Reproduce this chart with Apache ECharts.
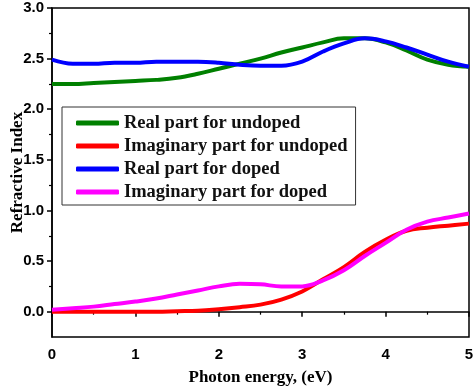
<!DOCTYPE html>
<html><head><meta charset="utf-8">
<script src="https://cdn.jsdelivr.net/npm/echarts@6/dist/echarts.min.js"></script>
<style>html,body{margin:0;padding:0;background:#fff}#c{width:474px;height:387px}</style>
</head><body><div id="c"></div>
<script>
const energy = [0,0.25,0.5,0.75,1,1.25,1.5,1.75,2,2.25,2.5,2.75,3,3.25,3.5,3.75,4,4.25,4.5,4.75,5];
const realUndoped = [2.25,2.25,2.26,2.27,2.28,2.29,2.31,2.35,2.40,2.45,2.50,2.56,2.61,2.66,2.70,2.70,2.66,2.58,2.49,2.44,2.42];
const imagUndoped = [0,0,0,0,0,0,0.005,0.01,0.025,0.045,0.07,0.12,0.20,0.32,0.44,0.59,0.71,0.80,0.83,0.85,0.87];
const realDoped = [2.49,2.45,2.45,2.46,2.46,2.47,2.47,2.47,2.46,2.44,2.43,2.43,2.47,2.57,2.65,2.70,2.67,2.61,2.54,2.47,2.42];
const imagDoped = [0.02,0.035,0.05,0.075,0.10,0.13,0.17,0.21,0.25,0.275,0.27,0.25,0.25,0.31,0.41,0.55,0.68,0.81,0.89,0.93,0.97];
const seriesNames = ['Real part for undoped','Imaginary part for undoped','Real part for doped','Imaginary part for doped'];
const seriesColors = ['#008000','#ff0000','#0000ff','#ff00ff'];
const seriesData = [realUndoped, imagUndoped, realDoped, imagDoped];
const xTicks = [0,1,2,3,4,5];
const yTicks = [0,0.5,1,1.5,2,2.5,3];
const yMinor = [0.25,0.75,1.25,1.75,2.25,2.75];
const xMinor = [0.5,1.5,2.5,3.5,4.5];

const chart = echarts.init(document.getElementById('c'));
const labelFont = {fontFamily:'Liberation Sans', fontWeight:'bold', fontSize:15, color:'#000'};
const titleFont = {fontFamily:'Liberation Serif', fontWeight:'bold', fontSize:17, color:'#000'};
chart.setOption({
  animation:false,
  grid:{left:52,right:5,top:8,bottom:50,containLabel:false,outerBoundsMode:'none',show:true,borderColor:'#000',borderWidth:1.5,backgroundColor:'transparent'},
  legend:{
    data:seriesNames, orient:'vertical', left:62, top:107,
    padding:[6,8,3,14], itemGap:3, itemWidth:43, itemHeight:5, itemTextGap:3,
    icon:'roundRect', borderColor:'#333', borderWidth:1, backgroundColor:'#fff',
    textStyle:{fontFamily:'Liberation Serif', fontWeight:'bold', fontSize:18.5, color:'#111', lineHeight:20}
  },
  xAxis:[{
    type:'value', min:0, max:5,
    name:'Photon energy, (eV)', nameLocation:'middle', nameGap:32, nameMoveOverlap:false, nameTextStyle:titleFont,
    axisLine:{lineStyle:{color:'#000',width:1.5}},
    axisTick:{customValues:xTicks, length:5, inside:false, lineStyle:{color:'#000',width:1.5}},
    axisLabel:{customValues:xTicks, margin:10, ...labelFont},
    splitLine:{show:false}
  },{
    type:'value', min:0, max:5, position:'bottom',
    axisLine:{show:false},
    axisTick:{customValues:xMinor, length:3, lineStyle:{color:'#000',width:1.2}},
    axisLabel:{show:false}, splitLine:{show:false}
  }],
  yAxis:[{
    type:'value', min:-0.25, max:3,
    name:'Refractive Index', nameLocation:'middle', nameGap:26, nameMoveOverlap:false, nameTextStyle:titleFont,
    axisLine:{lineStyle:{color:'#000',width:1.5}},
    axisTick:{customValues:yTicks, length:5, lineStyle:{color:'#000',width:1.5}},
    axisLabel:{customValues:yTicks, margin:8, formatter:v=>v.toFixed(1), ...labelFont},
    splitLine:{show:false}
  },{
    type:'value', min:-0.25, max:3, position:'left',
    axisLine:{show:false},
    axisTick:{customValues:yMinor, length:3, lineStyle:{color:'#000',width:1.2}},
    axisLabel:{show:false}, splitLine:{show:false}
  }],
  series: seriesNames.map((n,i)=>({
    name:n, type:'line', smooth:0.4, showSymbol:false, symbol:'none',
    color:seriesColors[i],
    lineStyle:{width:4,color:seriesColors[i]},
    itemStyle:{color:seriesColors[i]},
    data: energy.map((x,j)=>[x, seriesData[i][j]])
  }))
});
</script></body></html>
